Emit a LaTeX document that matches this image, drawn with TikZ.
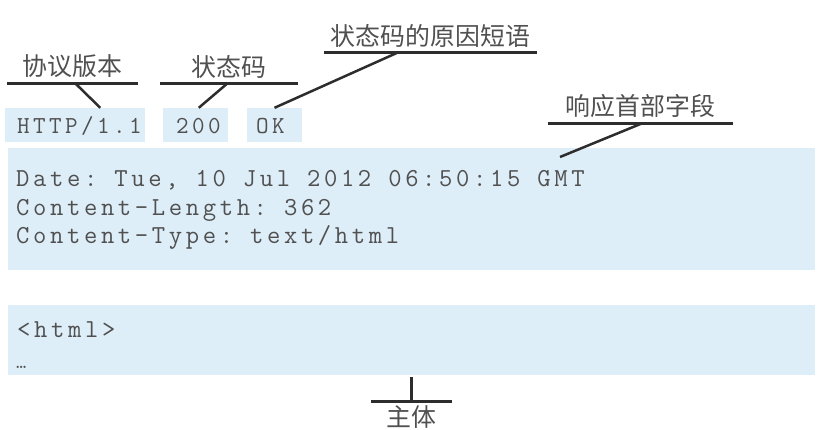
\documentclass[tikz,border=0pt]{standalone}
\usepackage{fontspec}
\setmonofont{Latin Modern Mono}[LetterSpace=14]
\newfontfamily\cjk{Noto Sans CJK SC}
\usetikzlibrary{fit,positioning,calc}
\definecolor{msgblue}{RGB}{221,238,248}
\definecolor{msgtext}{RGB}{80,80,80}
\definecolor{msgline}{RGB}{45,45,45}
\tikzset{
  msgbox/.style={fill=msgblue, inner sep=0pt},
  code/.style={font=\ttfamily\fontsize{26}{28}\selectfont, text=msgtext,
    inner sep=0pt, anchor=base west},
  startcode/.style={code, font=\ttfamily\fontsize{24.5}{28}\selectfont},
  tag/.style={font=\cjk\fontsize{25}{25}\selectfont, text=msgtext, inner sep=0pt},
  rule/.style={draw=msgline, line width=3bp},
  pointer/.style={draw=msgline, line width=2.5bp},
}

\begin{document}
\begin{tikzpicture}[x=1bp,y=-1bp]
      \useasboundingbox (0,0) rectangle (822,429);

      % status line
      \node[fit={(5,108) (145,142)}, msgbox] (version) {};
      \node[startcode] at (17,133) {HTTP/1.1};
      \node[fit={(163,108) (228,142)}, msgbox] (status) {};
      \node[startcode] at (176,133) {200};
      \node[fit={(247,108) (302,142)}, msgbox] (reason) {};
      \node[startcode] at (256,133) {OK};

      % header fields and body
      \node[fit={(8,148) (815,270)}, msgbox] (header) {};
      \node[code] (date) at (16,186) {Date: Tue, 10 Jul 2012 06:50:15 GMT};
      \node[code] (length) at (16,215) {Content-Length: 362};
      \node[code] (type) at (16,243) {Content-Type: text/html};
      \node[fit={(8,305) (815,375)}, msgbox] (body) {};
      \node[code] (html) at (17,337) {<html>};
      \node[code, font=\ttfamily\fontsize{20}{20}\selectfont] (more) at (16,368)
      {\textellipsis};

      % labels with their rules
      \node[fit={(7,45) (138,83)}, inner sep=0pt] (versiontag) {};
      \node[tag, above=5bp of versiontag.south] {协议版本};
      \draw[rule] (versiontag.south west) -- (versiontag.south east);
      \draw[pointer] ($(versiontag.south west)!0.52!(versiontag.south east)$) --
      ($(version.north west)!0.68!(version.north east)$);

      \node[fit={(160,45) (298,83)}, inner sep=0pt] (statustag) {};
      \node[tag, above=5bp of statustag.south] {状态码};
      \draw[rule] (statustag.south west) -- (statustag.south east);
      \draw[pointer] ($(statustag.south west)!0.49!(statustag.south east)$) --
      ($(status.north west)!0.55!(status.north east)$);

      \node[fit={(324,14) (537,52)}, inner sep=0pt] (reasontag) {};
      \node[tag, above=5bp of reasontag.south] {状态码的原因短语};
      \draw[rule] (reasontag.south west) -- (reasontag.south east);
      \draw[pointer] ($(reasontag.south west)!0.35!(reasontag.south east)$) --
      (reason.north);

      \node[fit={(548,85) (733,123)}, inner sep=0pt] (headertag) {};
      \node[tag, above=5bp of headertag.south] {响应首部字段};
      \draw[rule] (headertag.south west) -- (headertag.south east);
      \coordinate (gmt) at (560,157);
      \draw[pointer] ($(headertag.south west)!0.51!(headertag.south east)$) -- (gmt);

      \node[fit={(371,402) (452,440)}, inner sep=0pt] (bodytag) {};
      \node[tag, below=4bp of bodytag.north] {主体};
      \draw[rule] (bodytag.north west) -- (bodytag.north east);
      \draw[pointer] (bodytag.north) -- ($(body.south)+(0,2)$);
    \end{tikzpicture}
\end{document}
